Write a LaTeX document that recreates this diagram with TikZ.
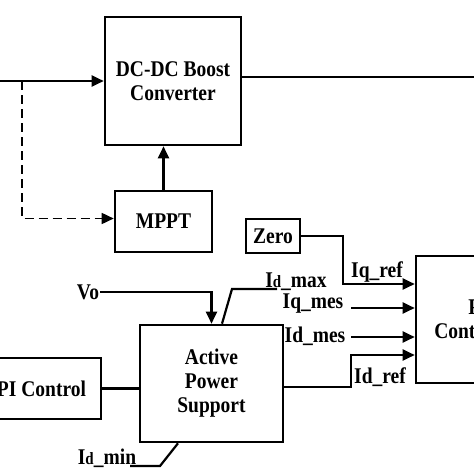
\documentclass[tikz,border=0pt]{standalone}
\usepackage{fontspec}
\setmainfont{Liberation Serif}
\usepackage{graphicx}
\usetikzlibrary{arrows.meta,calc}
\newcommand\tallt[1]{\scalebox{1}[1.15]{#1}}
\newcommand\smd{{\fontsize{15}{18}\selectfont d}}
\begin{document}
\begin{tikzpicture}[x=1pt,y=-1pt,
  box/.style={draw,line width=2.6pt,inner sep=0pt,align=center,
    font=\fontsize{19.5}{24}\selectfont\bfseries},
  lbl/.style={inner sep=1pt,font=\fontsize{19.5}{24}\selectfont\bfseries},
  conn/.style={line width=2.2pt},
  arr/.style={conn,-{Triangle[length=12pt,width=11pt]}}]
\useasboundingbox (0,0) rectangle (474,474);
\clip (0,0) rectangle (474,474);
% boxes
\node[box,minimum width=136pt,minimum height=128pt] (dcdc) at (173,81)
  {\tallt{DC-DC Boost}\\\tallt{Converter}};
\node[box,minimum width=97pt,minimum height=61pt] (mppt) at (163.5,221.5) {\tallt{MPPT}};
\node[box,minimum width=54pt,minimum height=34pt] (zero) at (273,236) {\tallt{Zero}};
\node[box,minimum width=124pt,minimum height=127pt] (pic) at (478,319.5)
  {\tallt{PI}\\\tallt{Controller}};
\node[box,minimum width=143pt,minimum height=117pt] (aps) at (211.5,383.5)
  {\tallt{Active}\\\tallt{Power}\\\tallt{Support}};
\node[box,minimum width=119pt,minimum height=61pt] (pil) at (41.5,388.5) {\tallt{PI Control}};
% labels
\node[lbl] (vo) at (88,292) {\tallt{Vo}};
\node[lbl] (iqref) at (377,272) {\tallt{Iq\_ref}};
\node[lbl] (iqmes) at (313,304) {\tallt{Iq\_mes}};
\node[lbl] (idmes) at (315,336) {\tallt{Id\_mes}};
\node[lbl] (idref) at (380,377) {\tallt{Id\_ref}};
\node[lbl] (idmax) at (296,282) {\tallt{I\smd\_max}};
\node[lbl] (idmin) at (107,458) {\tallt{I\smd\_min}};
% coordinates
\coordinate (in) at (-2,81);
\coordinate (br) at (22,81);
\coordinate (out) at (490,77);
\coordinate (k1) at (343,284);
\coordinate (s1) at (351,308);
\coordinate (s2) at (351,337);
\coordinate (k2) at (351,355);
\coordinate (m1) at (232,289);
\coordinate (m2) at (277,289);
\coordinate (n1) at (160,466);
\coordinate (n2) at (130,466);
% connectors
\draw[arr] (in) -- (dcdc.west);
\draw[arr,dash pattern=on 9pt off 5pt,line width=1.6pt] (br) |- ([yshift=3pt]mppt.west);
\draw[arr] (mppt.north) -- (mppt.north |- dcdc.south);
\draw[arr] ([yshift=4pt]dcdc.east) -- (out);
\draw[arr] (zero.east) -| (k1) -- (pic.west |- k1);
\draw[arr] (s1) -- (pic.west |- s1);
\draw[arr] (s2) -- (pic.west |- s2);
\draw[arr] ([yshift=-3.5pt]aps.east) -| (k2) -- (pic.west |- k2);
\draw[arr] (vo.east) -| (aps.north);
\draw[conn] ([xshift=10.5pt]aps.north) -- (m1) -- (m2);
\draw[conn] ([xshift=-33.5pt]aps.south) -- (n1) -- (n2);
\draw[conn] (pil.east) -- (pil.east -| aps.west);
\end{tikzpicture}
\end{document}
